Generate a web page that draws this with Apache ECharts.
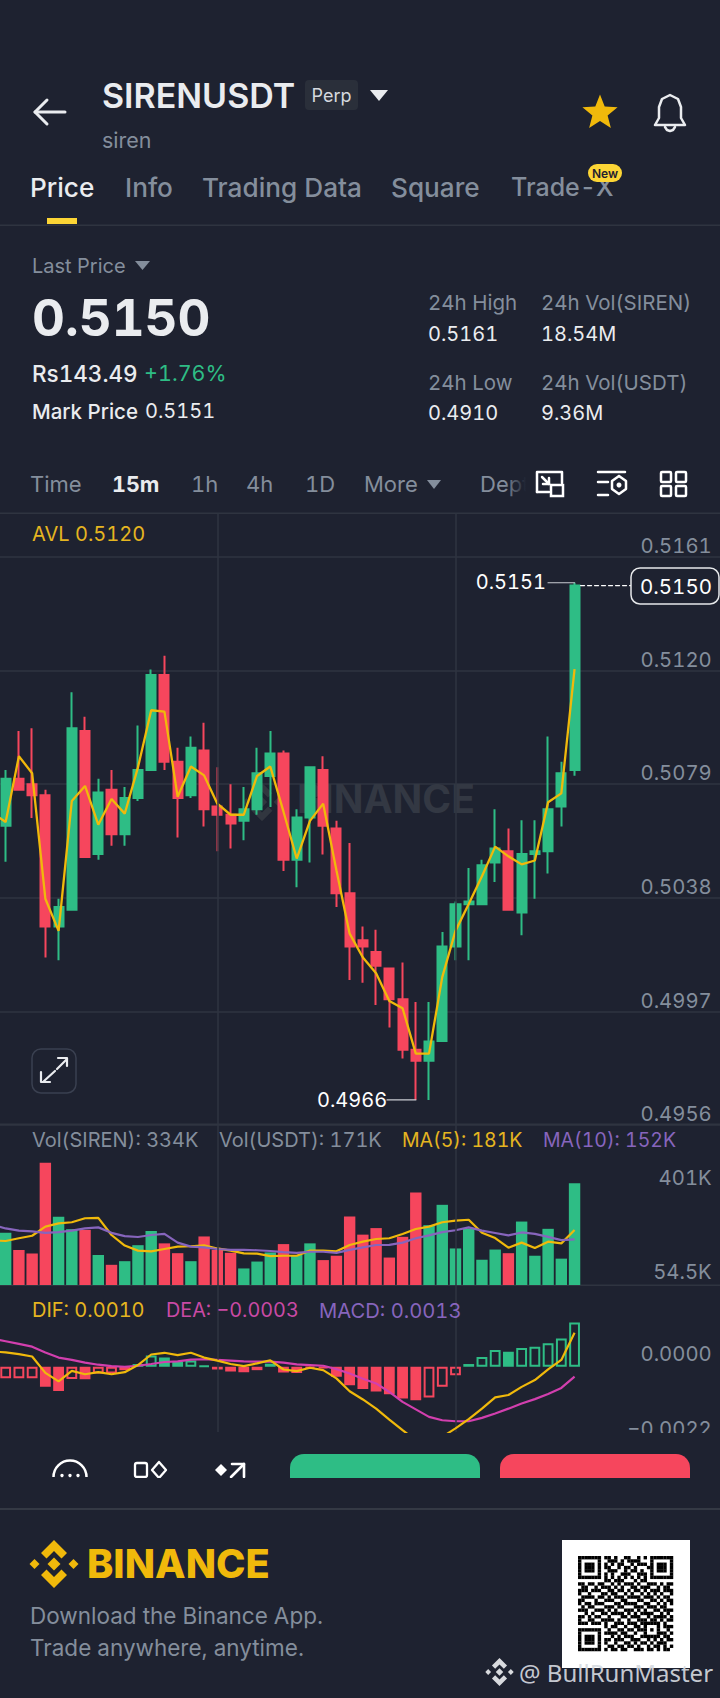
<!DOCTYPE html>
<html><head><meta charset="utf-8">
<style>html,body{margin:0;padding:0;background:#1e2230}#c{width:720px;height:1698px}text,tspan{font-feature-settings:"tnum" 1 !important}</style>
<script src="https://cdn.jsdelivr.net/npm/echarts@6/dist/echarts.min.js"></script>
</head><body><div id="c"></div>
<script>
// ---- data ----
// [open, close, low, high]
const candles = [
[.50639,.50809,.50509,.50840],[.50809,.50769,.50769,.50981],[.50789,.50749,.50667,.50991],[.50749,.50276,.50164,.50769],
[.50276,.50346,.50154,.50376],[.50336,.50991,.50336,.51121],[.50981,.50527,.50527,.51033],[.50537,.50759,.50517,.50809],
[.50769,.50609,.50567,.50840],[.50609,.50739,.50567,.50779],[.50739,.50840,.50729,.51001],[.50840,.51183,.50840,.51203],
[.51183,.50870,.50840,.51253],[.50870,.50739,.50597,.50921],[.50749,.50921,.50739,.50961],[.50911,.50699,.50637,.51011],
[.50709,.50679,.50547,.50850],[.50679,.50647,.50557,.50789],[.50657,.50699,.50587,.50779],[.50699,.50829,.50679,.50921],
[.50819,.50900,.50707,.50981],[.50900,.50517,.50476,.50911],[.50517,.50669,.50417,.50699],[.50669,.50850,.50507,.50850],
[.50840,.50639,.50536,.50890],[.50629,.50396,.50346,.50657],[.50396,.50204,.50083,.50577],[.50226,.50204,.50073,.50276],
[.50184,.50134,.49993,.50264],[.50124,.50013,.49911,.50124],[.50013,.49831,.49800,.50146],[.49831,.49791,.49650,.50003],
[.49791,.49861,.49650,.50003],[.49863,.50204,.49863,.50256],[.50204,.50356,.50154,.50366],[.50356,.50366,.50154,.50487],
[.50356,.50497,.50356,.50517],[.50507,.50557,.50436,.50699],[.50547,.50336,.50336,.50629],[.50326,.50537,.50244,.50659],
[.50537,.50547,.50376,.50659],[.50547,.50699,.50467,.50961],[.50709,.50829,.50637,.50870],[.50840,.51506,.50820,.51516]];
// first entry of each line belongs to the candle just off the left edge
const avlLine = [.50686,.50653,.50890,.50829,.50376,.50260,.50729,.50783,.50643,.50736,.50683,.50850,.51056,.51051,.50744,.50853,.50821,.50719,.50679,.50679,.50819,.50853,.50690,.50521,.50657,.50719,.50479,.50250,.50164,.50107,.50007,.49981,.49817,.49817,.50093,.50260,.50357,.50457,.50564,.50529,.50500,.50514,.50724,.50756,.51204];
const volumes = [198,151,141,391,242,208,206,137,110,120,164,203,169,142,120,188,151,143,100,119,144,167,137,169,123,135,243,193,211,130,187,309,219,275,155,210,124,152,142,229,135,209,127,334];
const volMA5 = [177,175.5,183,190,215,224,227,238,239,192,163,149,147,153.5,160,161,163.5,155,149,141.5,140.6,134,135,135,149,149,147,164.5,173.6,181,183,194.7,208.5,215,227,231.4,234,198.4,183.7,157,171,156,173.6,169,205.7];
const volMA10 = [220,210,204,202,198,200,204,210,213,198,189,186.5,192,195,171,160,158,153.5,151,151,150,148,145,143,146,146,143,151,158,164.5,165,171,183,191,200,205,213,204,197.5,191,199,195,187,178,180];
const macdHist = [-.00034,-.00034,-.00034,-.00059,-.00071,-.00036,-.00037,-.00020,-.00020,-.00010,.00008,.00033,.00027,.00015,.00018,.00003,-.00008,-.00014,-.00016,-.00010,.00009,-.00017,-.00018,-.00005,-.00005,-.00029,-.00054,-.00065,-.00073,-.00081,-.00093,-.00098,-.00090,-.00059,-.00025,.00008,.00029,.00049,.00044,.00055,.00059,.00069,.00083,.0013];
const difLine = [.00045,.00042,.00037,.00030,-.00018,-.00043,-.00012,-.00022,-.00016,-.00022,-.00016,.00005,.00036,.00041,.00034,.00041,.00027,.00018,.00008,.00002,.0001,.00019,-.00008,-.00013,-.00003,-.0001,-.00034,-.00072,-.00096,-.00123,-.00155,-.00186,-.00216,-.0023,-.00206,-.00181,-.00154,-.00123,-.0009,-.00083,-.00059,-.00039,-.00008,.0002,.001];
const deaLine = [.00083,.00075,.00067,.00059,.00042,.00027,.0002,.00012,.00006,.00002,0,.00003,.00008,.00014,.00016,.00021,.00022,.0002,.00018,.00016,.00015,.00015,.00012,.00007,.00005,.00003,-.00007,-.0002,-.00035,-.00049,-.00074,-.00103,-.00125,-.00147,-.00157,-.0016,-.0016,-.0015,-.00137,-.00123,-.00108,-.00095,-.0008,-.00062,-.00029];
const priceTicks = [.5161,.5120,.5079,.5038,.4997,.4956];
const volTicks = [54.5,401];
const macdTicks = [-.0022,0];
const tabs = ['Price','Info','Trading Data','Square','Trade-X'];
const periods = ['Time','15m','1h','4h','1D','More','Dept'];

// ---- styling ----
const BG='#1e2230', GREEN='#2ebd85', RED='#f6465d', YEL='#f0b90b', PUR='#8765bd', PINK='#d23fae', GREY='#848e9c', WHITE='#eaecef', GRID='#2f3440';
const FONT='Inter, "Noto Sans", sans-serif';
const BAND=13.23, OFFX=-7.56-BAND/2, NCAT=56;
const cats=Array.from({length:NCAT},(_,i)=>String(i));
const gridX={left:OFFX,width:BAND*NCAT,outerBoundsMode:'none'};
const xAxisFor=i=>({type:'category',gridIndex:i,data:cats,axisLine:{show:false},axisTick:{show:false},axisLabel:{show:false},splitLine:{show:false}});
const chart=echarts.init(document.getElementById('c'),null,{renderer:'svg',width:720,height:1698});
const axisLbl={inside:true,margin:15,fontFamily:FONT,fontSize:20.3,color:GREY};

chart.setOption({
 backgroundColor:BG,animation:false,
 grid:[
  {...gridX,top:556.7,height:568.2},
  {...gridX,top:1159,height:126},
  {...gridX,top:1285,height:156.7},
  {...gridX,top:513,height:919}
 ],
 xAxis:[0,1,2,3].map(xAxisFor),
 yAxis:[
  {type:'value',gridIndex:0,position:'right',min:.4956,max:.5161,axisLine:{show:false},axisTick:{show:false,customValues:priceTicks},
   splitLine:{show:true,lineStyle:{color:GRID,width:1.5}},
   axisLabel:{...axisLbl,customValues:priceTicks,verticalAlign:'bottom',padding:[0,0,1,0],formatter:v=>v.toFixed(4)}},
  {type:'value',gridIndex:1,position:'right',min:54.5,max:401,axisLine:{show:false},axisTick:{show:false,customValues:volTicks},
   splitLine:{show:false},
   axisLabel:{...axisLbl,customValues:volTicks,verticalAlign:'middle',
    formatter:v=>v>100?`{a|${v}K}`:`{b|${v}K}`,
    rich:{a:{fontFamily:FONT,fontSize:20.3,color:GREY,padding:[36,0,0,0]},b:{fontFamily:FONT,fontSize:20.3,color:GREY,padding:[0,0,27,0]}}}},
  {type:'value',gridIndex:2,position:'right',min:-.0022,max:.0024,axisLine:{show:false},axisTick:{show:false,customValues:macdTicks},
   splitLine:{show:false},
   axisLabel:{...axisLbl,customValues:macdTicks,verticalAlign:'bottom',padding:[0,0,3,0],formatter:v=>v.toFixed(4).replace('-','\u2212')}},
  {type:'value',gridIndex:3,show:false,min:0,max:1}
 ],
 series:[
  {type:'line',xAxisIndex:3,yAxisIndex:3,data:[],symbol:'none',silent:true,z:1,
   markLine:{silent:true,symbol:'none',label:{show:false},lineStyle:{color:GRID,width:1.5,type:'solid'},data:[{xAxis:17},{xAxis:35}]}},
  {type:'candlestick',xAxisIndex:0,yAxisIndex:0,barWidth:9.6,z:3,
   data:[['-','-','-','-'],...candles],
   itemStyle:{color:GREEN,color0:RED,borderColor:GREEN,borderColor0:RED,borderWidth:2}},
  {type:'line',xAxisIndex:0,yAxisIndex:0,data:avlLine,symbol:'none',z:4,lineStyle:{color:YEL,width:2.3}},
  {type:'bar',xAxisIndex:1,yAxisIndex:1,barWidth:11.4,z:2,
   data:['-',...volumes.map((v,i)=>({value:v,itemStyle:{color:candles[i][1]>=candles[i][0]?GREEN:RED}}))]},
  {type:'line',xAxisIndex:1,yAxisIndex:1,data:volMA5,symbol:'none',z:4,lineStyle:{color:YEL,width:2.2}},
  {type:'line',xAxisIndex:1,yAxisIndex:1,data:volMA10,symbol:'none',z:4,lineStyle:{color:PUR,width:2.2}},
  {type:'bar',xAxisIndex:2,yAxisIndex:2,barWidth:10.8,z:2,
   data:['-',...macdHist.map((v,i)=>{
     const c=v>=0?GREEN:RED, hollow=i===0||v>=macdHist[i-1];
     return {value:v,itemStyle:{color:hollow?BG:c,borderColor:c,borderWidth:2}};
   })]},
  {type:'line',xAxisIndex:2,yAxisIndex:2,data:deaLine,symbol:'none',z:4,lineStyle:{color:PINK,width:2.2}},
  {type:'line',xAxisIndex:2,yAxisIndex:2,data:difLine,symbol:'none',z:5,lineStyle:{color:YEL,width:2.2}}
 ]
});

// ---- page furniture ----
const T=(text,x,y,size,fill,o={})=>({type:'text',silent:true,z:o.z||110,style:{text,x,y,fill,font:`${o.w||400} ${size}px ${o.f||FONT}`,align:o.a||'left',verticalAlign:'middle'}});
const R=(x,y,w,h,fill,o={})=>({type:'rect',silent:true,z:o.z||110,shape:{x,y,width:w,height:h,r:o.r||0},style:{fill,stroke:o.stroke||null,lineWidth:o.lw||0}});
const L=(x1,y1,x2,y2,stroke,lw=2,o={})=>({type:'line',silent:true,z:o.z||110,shape:{x1,y1,x2,y2},style:{stroke,lineWidth:lw,lineDash:o.dash||null,lineCap:'round'}});
const P=(points,fill,o={})=>({type:'polygon',silent:true,z:o.z||110,shape:{points},style:{fill}});
const PL=(points,stroke,lw=2.5,o={})=>({type:'polyline',silent:true,z:o.z||110,shape:{points},style:{stroke,lineWidth:lw,fill:null,lineJoin:'round',lineCap:'round'}});
const tri=(x,y,w,h,fill)=>P([[x,y],[x+w,y],[x+w/2,y+h]],fill);
const logo=(cx,cy,s,c,z)=>{const m=(x,y)=>[cx+x*s,cy+y*s],o={z};
 const dia=(x,y,r)=>P([m(x,y-r),m(x+r,y),m(x,y+r),m(x-r,y)],c,o);
 return [dia(0,0,6.5),dia(-19.5,0,5),dia(19.5,0,5),
  P([m(0,-24),m(13,-11),m(7.5,-5.5),m(0,-13),m(-7.5,-5.5),m(-13,-11)],c,o),
  P([m(0,24),m(13,11),m(7.5,5.5),m(0,13),m(-7.5,5.5),m(-13,11)],c,o)];};

const lastTop=chart.convertToPixel({gridIndex:0},[44,candles[43][3]]);
const lastClose=chart.convertToPixel({gridIndex:0},[44,candles[43][1]]);
const lowPt=chart.convertToPixel({gridIndex:0},[32,candles[31][2]]);

const star=[];for(let i=0;i<10;i++){const r=i%2?8:18.5,a=-Math.PI/2+i*Math.PI/5;star.push([600+r*Math.cos(a),113+r*Math.sin(a)]);}
const bell=[[655,125],[659,118],[659,107],[662,99],[670,95],[678,99],[681,107],[681,118],[685,125],[655,125]];

const qr=[
'11111110110100110010101111111',
'10000010011101011110001000001',
'10111010101011001011101011101',
'10111010110010110100011011101',
'10111010011100101101001011101',
'10000010101001110011101000001',
'11111110101010101010101111111',
'00000000110111000101100000000',
'11011011001010111010011101011',
'01100101110101001101110010110',
'11101110011011010110101110111',
'10010001101100101001010101001',
'01111011010111011110111010110',
'11000100111001100011001101011',
'10110111000110111100110010101',
'01011000111011000111011101100',
'11100111010100111010100110111',
'00101001101111010101111001010',
'11010110010001101110010111101',
'10011001111010010011101101011',
'11101110100111011101111110100',
'00000000101100100110100010111',
'11111110010011011011101010010',
'10000010111101100100100011101',
'10111010001010111001111110110',
'10111010110111001110010101011',
'10111010100100110101101011100',
'10000010011011011010010110101',
'11111110101101100111011010110'];
const qrRects=[];qr.forEach((row,j)=>[...row].forEach((b,i)=>{if(b==='1')qrRects.push(R(578+i*3.28,1556+j*3.28,3.4,3.4,'#000',{z:112}));}));

const tabX=[30,125,202,391,511];
const tabSize=[26.2,26.2,26.2,26.2,25];
const perX=[30,112,191,246,305,364,480];

const graphic=[
 // watermark
 ...logo(262,802,.8,'#31363f',1),
 T('BINANCE',297,798,39,'#333843',{w:700,z:1}),
 // rules
 R(0,512.5,720,1.5,GRID,{z:2}),
 R(0,1123.5,720,1.5,GRID,{z:2}),
 R(0,1284.5,720,1.5,GRID,{z:2}),
 // header
 PL([[47,100],[35,112],[47,124]],'#eaecef',3),L(35,112,65,112,'#eaecef',3),
 T('SIRENUSDT',102,95,34,WHITE,{w:600}),
 R(305,80,53,30,'#2a2f3a',{r:4}),T('Perp',331.5,95,18,'#d5d9df',{a:'center'}),
 tri(370,90,18,11,'#eaecef'),
 T('siren',102,140,21.5,GREY),
 P(star,YEL),
 PL(bell,'#eaecef',2.5),
 PL([[665,127],[667,130],[670,131],[673,130],[675,127]],'#eaecef',2.5),
 ...tabs.map((t,i)=>T(t,tabX[i],187,tabSize[i],i===0?WHITE:GREY,{w:500})),
 R(588,164,34,18,'#fcd535',{r:9}),T('New',605,173.5,12,'#1e2230',{a:'center',w:600}),
 R(47,218,30,6,'#fcd535'),
 R(0,224.5,720,1.5,GRID),
 T('Last Price',32,266,20,GREY),tri(135,261,15,9,GREY),
 T('0.5150',32,317,51,WHITE,{w:700}),
 T('Rs143.49',32,373,22.5,WHITE,{w:500}),T('+1.76%',144,373,21.5,GREEN),
 T('Mark Price',32,411,20.5,WHITE,{w:500}),T('0.5151',145,411,20,WHITE),
 T('24h High',428,302,20.5,GREY),T('24h Vol(SIREN)',541,302,20.5,GREY),
 T('0.5161',428,334,20,WHITE),T('18.54M',541,334,20,WHITE),
 T('24h Low',428,382,20.5,GREY),T('24h Vol(USDT)',541,382,20.5,GREY),
 T('0.4910',428,413,20,WHITE),T('9.36M',541,413,20,WHITE),
 // period row
 ...periods.map((t,i)=>T(t,perX[i],484,i===1?21.5:22,i===1?WHITE:GREY,{w:i===1?700:400})),
 tri(427,480,14,9,GREY),
 {type:'rect',silent:true,z:111,shape:{x:505,y:470,width:30,height:30},style:{fill:new echarts.graphic.LinearGradient(0,0,1,0,[{offset:0,color:'rgba(30,34,48,0)'},{offset:.7,color:BG},{offset:1,color:BG}])}},
 // icons
 PL([[537,492],[537,472],[562,472],[562,483]],'#fff',2.5,{z:112}),PL([[549,492],[537,492]],'#fff',2.5,{z:112}),
 {type:'rect',silent:true,z:112,shape:{x:551,y:485,width:12,height:11},style:{fill:null,stroke:'#fff',lineWidth:2.5}},
 PL([[542,477],[549,484]],'#fff',2.5,{z:112}),PL([[549,478],[549,484],[543,484]],'#fff',2.5,{z:112}),
 L(598,472,625,472,'#fff',2.5),L(598,482,608,482,'#fff',2.5),L(598,495,608,495,'#fff',2.5),
 PL([[619,476],[626,481],[626,489],[619,494],[612,489],[612,481],[619,476]],'#fff',2.5),
 {type:'circle',silent:true,z:112,shape:{cx:619,cy:485,r:2.5},style:{fill:'#fff'}},
 ...[[661,472],[676,472],[661,486],[676,486]].map(([x,y])=>({type:'rect',silent:true,z:112,shape:{x,y,width:10,height:10,r:1},style:{fill:null,stroke:'#fff',lineWidth:2.5}})),
 // chart captions
 T('AVL 0.5120',32,533.5,20,'#e5b520'),
 // callouts tied to the data
 T('0.5151',546,lastTop[1]-1,20,'#fff',{a:'right'}),
 L(548,lastTop[1],lastTop[0],lastTop[1],'#c9ccd1',1.2),
 L(lastClose[0]+6,lastClose[1],631,lastClose[1],'#fff',1.2,{dash:[4,3]}),
 R(631,568,88,36,BG,{r:9,stroke:'#e6e8ea',lw:1.5}),
 T('0.5150',676,586.5,20.5,'#fff',{a:'center'}),
 T('0.4966',317,lowPt[1],20,'#fff'),
 L(387,lowPt[1],lowPt[0],lowPt[1],'#c9ccd1',1.2),
 // expand button
 R(32,1049,44,44,BG,{r:9,stroke:'#3a4050',lw:1.5}),
 L(44,1081,55,1071,'#eaecef',2.2),L(57,1069,67,1059,'#eaecef',2.2),
 PL([[58,1058],[67,1058],[67,1066]],'#eaecef',2.2),PL([[41,1072],[41,1082],[50,1082]],'#eaecef',2.2),
 // pane captions
 T('Vol(SIREN): 334K',32,1140,20,GREY),T('Vol(USDT): 171K',219,1140,20,GREY),
 T('MA(5): 181K',402,1140,19.5,'#e5b520'),T('MA(10): 152K',543,1140,19.5,PUR),
 T('DIF: 0.0010',32,1310,20,'#e5b520'),T('DEA: \u22120.0003',166,1310,19.8,'#c94aa5'),T('MACD: 0.0013',319,1310,20.2,PUR),
 // bottom strip (hides what the phone screen cuts off)
 R(0,1433,720,46,BG,{z:100}),
 {type:'arc',silent:true,z:110,shape:{cx:70,cy:1477,r:16.5,startAngle:Math.PI,endAngle:2*Math.PI},style:{stroke:'#fff',lineWidth:2.5,fill:null}},
 ...[62,70,78].map(x=>({type:'circle',silent:true,z:110,shape:{cx:x,cy:1475.5,r:1.7},style:{fill:'#fff'}})),
 {type:'rect',silent:true,z:110,shape:{x:135,y:1463,width:12,height:14,r:2},style:{fill:null,stroke:'#fff',lineWidth:2.3}},
 PL([[159,1462],[166,1470],[159,1478],[152,1470],[159,1462]],'#fff',2.3),
 P([[221,1464],[227,1470],[221,1476],[215,1470]],'#fff'),
 L(231,1477,244,1464,'#fff',2.6),PL([[232,1464],[244,1464],[244,1477]],'#fff',2.6),
 {type:'rect',silent:true,z:110,shape:{x:290,y:1454,width:190,height:40,r:14},style:{fill:GREEN}},
 {type:'rect',silent:true,z:110,shape:{x:500,y:1454,width:190,height:40,r:14},style:{fill:RED}},
 R(0,1478,720,220,BG,{z:111}),
 R(0,1508,720,2,'#343944',{z:112}),
 ...logo(54,1564,1,YEL,112),
 T('BINANCE',87,1564,39.7,YEL,{w:800,z:112}),
 T('Download the Binance App.',30,1615,22.5,GREY,{z:112}),
 T('Trade anywhere, anytime.',30,1647,22.5,GREY,{z:112}),
 R(562,1540,128,128,'#fff',{z:111.5}),
 ...qrRects,
 ...logo(499.5,1672,.58,'#d8dade',113),
 T('@ BullRunMaster',519,1672,24,'rgba(214,218,224,.92)',{z:113,f:'"Noto Sans", sans-serif'})
];
chart.setOption({graphic:{elements:graphic}});
</script></body></html>
